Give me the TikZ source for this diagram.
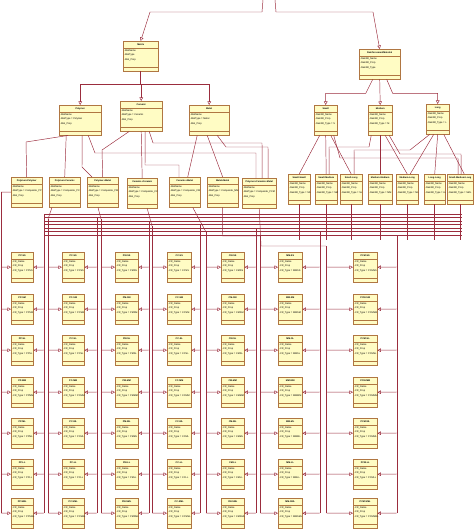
\documentclass[tikz,border=0pt]{standalone}
\usepackage{fontspec}
\setmainfont{Liberation Sans}
\usetikzlibrary{arrows.meta,calc}
\definecolor{boxfill}{RGB}{255,252,196}
\definecolor{boxline}{RGB}{176,118,66}
\definecolor{wire}{RGB}{155,45,62}
\newlength\upx
\setlength\upx{0.03cm}
\newcommand\umlclass[6]{%
  \node[clsbox, minimum width=#4*\upx, anchor=north west] (#1) at (#2,#3) {};
  \node[clstitle] (#1t) at ([yshift=-3.6*\upx]#1.north) {#5};
  \draw[clsrule] ([yshift=-7*\upx]#1.north west) -- ([yshift=-7*\upx]#1.north east);
  \draw[clsrule] ([yshift=4*\upx]#1.south west) -- ([yshift=4*\upx]#1.south east);
  \node[clsattr] (#1a) at ([xshift=1*\upx,yshift=-8.5*\upx]#1.north west) {#6};
}
\begin{document}
\begin{tikzpicture}[x=0.03cm, y=-0.03cm,
  clsbox/.style={draw=boxline, fill=boxfill, line width=0.35pt, minimum height=30*\upx, inner sep=0pt},
  clsrule/.style={draw=boxline, line width=0.3pt},
  clstitle/.style={font=\fontsize{2.0}{2.4}\selectfont\bfseries, inner sep=0pt},
  clsattr/.style={font=\fontsize{2.1}{3.8}\selectfont, align=left, anchor=north west, inner sep=0pt},
  link/.style={draw=wire, line width=0.4pt},
  gen/.style={link, -{Triangle[open, length=3pt, width=3pt]}}]
\useasboundingbox (0,0) rectangle (474,530);
\coordinate (src1) at (263,0);
\coordinate (src2) at (275,0);
\umlclass{matrix}{123}{41}{35}{Matrix}{-MatName\\-MatType\\-Mat\_Prop}
\umlclass{rein}{359}{49}{41}{ReinforcementMaterial}{-ReinMt\_Name\\-ReinMt\_Prop\\-ReinMt\_Type}
\draw[gen] (src1) -- (262,12) -- (150,12) -- (matrix.north);
\draw[gen] (src2) -- (276,12) -- (373,12) -- (rein.north);
\umlclass{poly}{59}{105}{42}{Polymer}{-MatName\\-MatType = Polymer\\-Mat\_Prop}
\umlclass{cera}{120}{101}{42}{Ceramic}{-MatName\\-MatType = Ceramic\\-Mat\_Prop}
\umlclass{metal}{189}{105}{40}{Metal}{-MatName\\-MatType = Metal\\-Mat\_Prop}
\umlclass{small}{314}{105}{23}{Small}{-ReinMt\_Name\\-ReinMt\_Prop\\-ReinMt\_Type = S}
\umlclass{medium}{368}{105}{24}{Medium}{-ReinMt\_Name\\-ReinMt\_Prop\\-ReinMt\_Type = M}
\umlclass{long}{426}{104}{23}{Long}{-ReinMt\_Name\\-ReinMt\_Prop\\-ReinMt\_Type = L}
\draw[gen] (matrix.south) -- ++(0,13) -| (poly.north);
\draw[gen] (matrix.south) -- ++(0,13) -| (cera.north);
\draw[gen] (matrix.south) -- ++(0,13) -| (metal.north);
\draw[gen] ($(rein.south)+(-7,0)$) -- ++(-7,14) -| (small.north);
\draw[gen] (rein.south) -- (medium.north);
\draw[gen] ($(rein.south)+(7,0)$) -- ++(6,14) -| (long.north);
\foreach \n/\x/\y/\w/\t in {PP/11/177/31/Polymer+Polymer, PC/49/177/31/Polymer+Ceramic, PM/87/177/31/Polymer+Metal, CC/127/178/30/Ceramic+Ceramic, CM/169/177/31/Ceramic+Metal, MM/207/177/31/Metal+Metal, PCM/242/178/34/Polymer+Ceramic+Metal}
  {\umlclass{m\n}{\x}{\y}{\w}{\t}{-MatName\\-MatType = Composite\_\n\\-Mat\_Prop}}
\foreach \n/\x/\w/\t in {SS/288/22/Small-Small, SM/315/22/Small-Medium, SL/340/22/Small-Long, MM/368/24/Medium-Medium, ML/396/22/Medium-Long, LL/424/21/Long-Long, SML/447/26/Small-Medium-Long}
  {\umlclass{r\n}{\x}{174}{\w}{\t}{-ReinMt\_Name\\-ReinMt\_Prop\\-ReinMt\_Type = \n}}
\draw[link] ($(poly.south)+(-12,0)$) -- (26,142) -- (mPP.north);
\draw[link] ($(poly.south)+(-14,0)$) -- (mPC.north);
\draw[link] ($(poly.south)+(2,0)$) -- (82,167) -- ($(mPM.north west)+(5,0)$);
\draw[link] ($(poly.south)+(8,0)$) -- (95,153) -- (256,153) -- ($(mPCM.north west)+(14,0)$);
\draw[link] ($(cera.south)+(-12,0)$) -- (102,150) -- (mPM.north);
\draw[link] (cera.south) -- (mCC.north);
\draw[link] ($(cera.south)+(4,0)$) -- (145,165) -- (179,165) -- ($(mCM.north west)+(10,0)$);
\draw[link] ($(cera.south)+(8,0)$) -- (153,143) -- (262,143) -- ($(mPCM.north)+(3,0)$);
\draw[link] ($(metal.south)+(-12,0)$) -- ($(mCM.north)+(3,0)$);
\draw[link] ($(metal.south)+(-2,0)$) -- (mMM.north);
\draw[link] ($(metal.south)+(8,0)$) -- (226,147) -- (268,147) -- ($(mPCM.north)+(9,0)$);
\draw[link] ($(small.south)+(-6,0)$) -- (rSS.north);
\draw[link] (small.south) -- (rSM.north);
\draw[link] ($(small.south)+(5,0)$) -- (rSL.north);
\draw[link] ($(small.south)+(8,0)$) -- (340,158) -- (458,158) -- ($(rSML.north)+(-2,0)$);
\draw[link] ($(medium.south)+(-9,0)$) -- (369,147) -- (329,147) -- ($(rSM.north)+(3,0)$);
\draw[link] (medium.south) -- (rMM.north);
\draw[link] ($(medium.south)+(5,0)$) -- (rML.north);
\draw[link] ($(medium.south)+(9,0)$) -- (400,154) -- (461,154) -- ($(rSML.north)+(1,0)$);
\draw[link] ($(long.south)+(-8,0)$) -- (410,150) -- (354,150) -- ($(rSL.north)+(3,0)$);
\draw[link] ($(long.south)+(-4,0)$) -- ($(rML.north)+(3,0)$);
\draw[link] (long.south) -- (rLL.north);
\draw[link] ($(long.south)+(6,0)$) -- ($(rSML.north)+(4,0)$);
\foreach \k in {0,...,6}
  \draw[link] (44,214+3.5*\k) -- (462,214+3.5*\k);
\foreach \n in {SS,SM,SL,MM,ML,LL,SML}
  \draw[link] (r\n.south) -- (r\n.south |- 0,240);
\draw[link] (mPP.west) -- (1,192);
\draw[link] ($(mPC.south west)+(3,0)$) -- (48,219);
\draw[link] ($(mPM.south west)+(11,0)$) -- (101,219);
\draw[link] ($(mCC.south)+(5,0)$) -- (152,226);
\draw[link] ($(mCM.south)+(8,0)$) -- (206,232);
\draw[link] (mMM.south) -- (222.5,236) -- (260,236);
\draw[link] (mPCM.south) -- (261,246) -- (326,246);
\foreach \cn/\cx/\cw/\lx/\rx/\lt [count=\j] in {PP/11/22/1/44/192, PC/62/22/48/97/219, PM/115/23/101/149/219, CC/167/24/152/200/226, CM/221/23/206/256/232, MM/278/24/260/320/236, PCM/353/24/326/397/246}{
  \draw[link] (\lx,\lt) -- (\lx,513);
  \draw[link] (\rx,{214+3.5*(\j-1)}) -- (\rx,513);
  \foreach \rn/\ry in {SS/252, SM/294, SL/335, MM/377, ML/418, LL/459, SML/498}{
    \umlclass{\cn-\rn}{\cx}{\ry}{\cw}{\cn-\rn}{-CR\_Name\\-CR\_Prop\\-CR\_Type = \cn\rn}
    \draw[gen] (\lx,\ry+15) -- (\cn-\rn.west);
    \draw[gen] (\rx,\ry+15) -- (\cn-\rn.east);
  }
}
\end{tikzpicture}
\end{document}
